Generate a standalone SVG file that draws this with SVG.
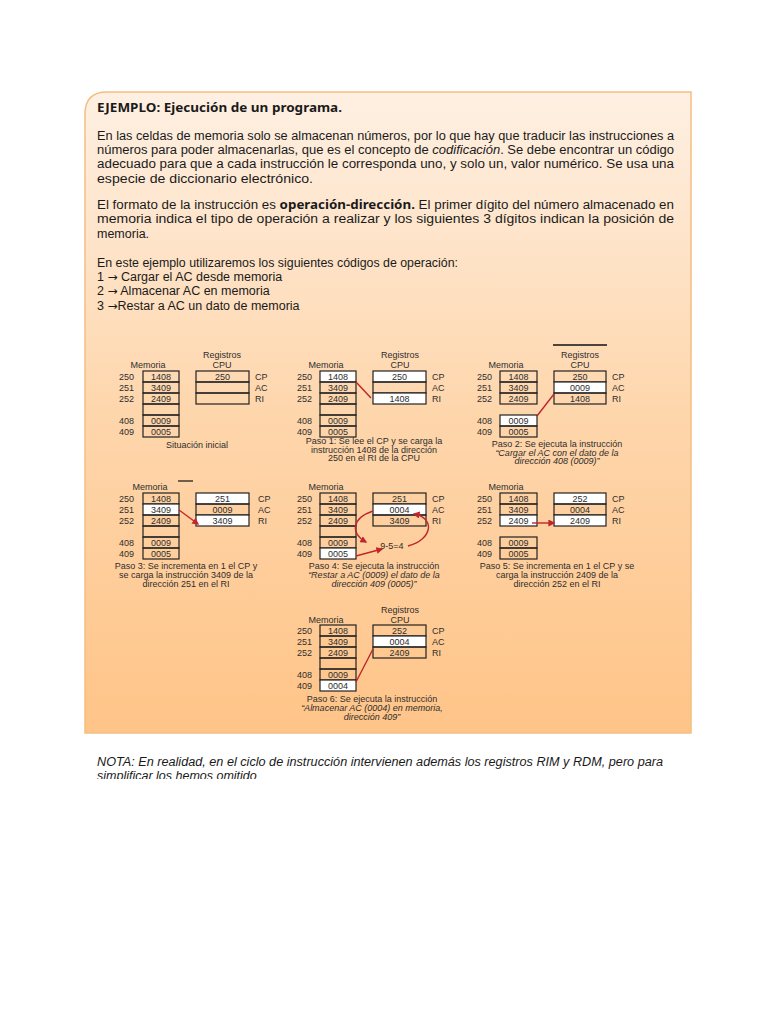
<svg xmlns="http://www.w3.org/2000/svg" width="768" height="1024" viewBox="0 0 768 1024">
<defs>
<linearGradient id="bg" x1="0" y1="0" x2="0" y2="1">
<stop offset="0" stop-color="#FEF0E3"/>
<stop offset="0.5" stop-color="#FED6AC"/>
<stop offset="1" stop-color="#FFC488"/>
</linearGradient>
<marker id="ah" viewBox="0 0 10 10" refX="8" refY="5" markerWidth="5" markerHeight="5" orient="auto">
<path d="M0,0 L10,5 L0,10 Z" fill="#C0262C"/>
</marker>
<clipPath id="noteclip"><rect x="0" y="740" width="768" height="39"/></clipPath>
<style>
.body{font-family:"Liberation Sans",Arial,sans-serif;font-size:12.5px;fill:#1a1a1a}
.bold{font-family:"Noto Sans","Open Sans",sans-serif;font-weight:bold}
.arr{font-family:"DejaVu Sans",sans-serif;font-size:12px}
.s{font-family:"Liberation Sans",Arial,sans-serif;font-size:9px;fill:#2e2e2e}
.c{text-anchor:middle}
.it{font-style:italic}
.cell{fill:none;stroke:#222;stroke-width:1.2}
.hi{fill:#FFFFFF;stroke:#222;stroke-width:1.2}
.red{fill:none;stroke:#C0262C;stroke-width:1.4}
</style>
</defs>
<rect width="768" height="1024" fill="#FFFFFF"/>
<path d="M107,92 H691 V733 H85 V114 Q85,92 107,92 Z" fill="url(#bg)" stroke="#F3BE82" stroke-width="1.5"/>

<g id="intro">
<text class="bold" x="97" y="112" font-size="13" fill="#1a1a1a" textLength="245" lengthAdjust="spacingAndGlyphs">EJEMPLO: Ejecución de un programa.</text>
<text class="body" x="97" y="139.5" textLength="577" lengthAdjust="spacingAndGlyphs">En las celdas de memoria solo se almacenan números, por lo que hay que traducir las instrucciones a</text>
<text class="body" x="97" y="153.5" textLength="577" lengthAdjust="spacingAndGlyphs">números para poder almacenarlas, que es el concepto de <tspan class="it">codificación</tspan>. Se debe encontrar un código</text>
<text class="body" x="97" y="167.5" textLength="577" lengthAdjust="spacingAndGlyphs">adecuado para que a cada instrucción le corresponda uno, y solo un, valor numérico. Se usa una</text>
<text class="body" x="97" y="182.5" textLength="216" lengthAdjust="spacingAndGlyphs">especie de diccionario electrónico.</text>
<text class="body" x="97" y="208.5" textLength="577" lengthAdjust="spacingAndGlyphs">El formato de la instrucción es <tspan class="bold">operación-dirección.</tspan> El primer dígito del número almacenado en</text>
<text class="body" x="97" y="222.5" textLength="577" lengthAdjust="spacingAndGlyphs">memoria indica el tipo de operación a realizar y los siguientes 3 dígitos indican la posición de</text>
<text class="body" x="97" y="237.5">memoria.</text>
<text class="body" x="97" y="266.5" textLength="361" lengthAdjust="spacingAndGlyphs">En este ejemplo utilizaremos los siguientes códigos de operación:</text>
<text class="body" x="97" y="280.5">1 <tspan class="arr">→</tspan> Cargar el AC desde memoria</text>
<text class="body" x="97" y="294.5">2 <tspan class="arr">→</tspan> Almacenar AC en memoria</text>
<text class="body" x="97" y="309.5">3 <tspan class="arr">→</tspan>Restar a AC un dato de memoria</text>
</g>

<!-- Diagram 1 -->
<g id="d1">
<text class="s c" x="222" y="358">Registros</text>
<text class="s c" x="222" y="368">CPU</text>
<text class="s c" x="148" y="368">Memoria</text>
<text class="s" x="119" y="379.5">250</text><text class="s" x="119" y="390.5">251</text><text class="s" x="119" y="401.5">252</text>
<text class="s" x="119" y="423.5">408</text><text class="s" x="119" y="434.5">409</text>
<rect class="cell" x="143" y="371" width="36" height="11"/><rect class="cell" x="143" y="382" width="36" height="11"/><rect class="cell" x="143" y="393" width="36" height="11"/><rect class="cell" x="143" y="404" width="36" height="11"/><rect class="cell" x="143" y="415" width="36" height="11"/><rect class="cell" x="143" y="426" width="36" height="11"/>
<text class="s c" x="161" y="379.5">1408</text><text class="s c" x="161" y="390.5">3409</text><text class="s c" x="161" y="401.5">2409</text><text class="s c" x="161" y="423.5">0009</text><text class="s c" x="161" y="434.5">0005</text>
<rect class="cell" x="196" y="371" width="53" height="11"/><rect class="cell" x="196" y="382" width="53" height="11"/><rect class="cell" x="196" y="393" width="53" height="11"/>
<text class="s c" x="222.5" y="379.5">250</text>
<text class="s" x="255" y="379.5">CP</text><text class="s" x="255" y="390.5">AC</text><text class="s" x="255" y="401.5">RI</text>
<text class="s c" x="197" y="448">Situación inicial</text>
</g>

<!-- Diagram 2 -->
<g id="d2">
<text class="s c" x="400" y="358">Registros</text>
<text class="s c" x="400" y="368">CPU</text>
<text class="s c" x="326" y="368">Memoria</text>
<text class="s" x="297" y="379.5">250</text><text class="s" x="297" y="390.5">251</text><text class="s" x="297" y="401.5">252</text>
<text class="s" x="297" y="423.5">408</text><text class="s" x="297" y="434.5">409</text>
<rect class="hi" x="320" y="371" width="36" height="11"/><rect class="cell" x="320" y="382" width="36" height="11"/><rect class="cell" x="320" y="393" width="36" height="11"/><rect class="cell" x="320" y="404" width="36" height="11"/><rect class="cell" x="320" y="415" width="36" height="11"/><rect class="cell" x="320" y="426" width="36" height="11"/>
<text class="s c" x="338" y="379.5">1408</text><text class="s c" x="338" y="390.5">3409</text><text class="s c" x="338" y="401.5">2409</text><text class="s c" x="338" y="423.5">0009</text><text class="s c" x="338" y="434.5">0005</text>
<rect class="hi" x="373" y="371" width="53" height="11"/><rect class="cell" x="373" y="382" width="53" height="11"/><rect class="hi" x="373" y="393" width="53" height="11"/>
<text class="s c" x="399.5" y="379.5">250</text><text class="s c" x="399.5" y="401.5">1408</text>
<text class="s" x="432" y="379.5">CP</text><text class="s" x="432" y="390.5">AC</text><text class="s" x="432" y="401.5">RI</text>
<text class="s c" x="374" y="444">Paso 1: Se lee el CP y se carga la</text>
<text class="s c" x="374" y="452.5">instrucción 1408 de la dirección</text>
<text class="s c" x="374" y="461">250 en el RI de la CPU</text>
</g>

<!-- Diagram 3 -->
<g id="d3">
<line x1="553" y1="345" x2="607" y2="345" stroke="#111" stroke-width="1.6"/>
<text class="s c" x="580" y="358">Registros</text>
<text class="s c" x="580" y="368">CPU</text>
<text class="s c" x="506" y="368">Memoria</text>
<text class="s" x="477" y="379.5">250</text><text class="s" x="477" y="390.5">251</text><text class="s" x="477" y="401.5">252</text>
<text class="s" x="477" y="423.5">408</text><text class="s" x="477" y="434.5">409</text>
<rect class="cell" x="500" y="371" width="37" height="11"/><rect class="cell" x="500" y="382" width="37" height="11"/><rect class="cell" x="500" y="393" width="37" height="11"/><rect class="hi" x="500" y="415" width="37" height="11"/><rect class="cell" x="500" y="426" width="37" height="11"/>
<text class="s c" x="518.5" y="379.5">1408</text><text class="s c" x="518.5" y="390.5">3409</text><text class="s c" x="518.5" y="401.5">2409</text><text class="s c" x="518.5" y="423.5">0009</text><text class="s c" x="518.5" y="434.5">0005</text>
<rect class="cell" x="554" y="371" width="52" height="11"/><rect class="hi" x="554" y="382" width="52" height="11"/><rect class="cell" x="554" y="393" width="52" height="11"/>
<text class="s c" x="580" y="379.5">250</text><text class="s c" x="580" y="390.5">0009</text><text class="s c" x="580" y="401.5">1408</text>
<text class="s" x="612" y="379.5">CP</text><text class="s" x="612" y="390.5">AC</text><text class="s" x="612" y="401.5">RI</text>
<text class="s c" x="557" y="447">Paso 2: Se ejecuta la instrucción</text>
<text class="s c it" x="557" y="455.5">“Cargar el AC con el dato de la</text>
<text class="s c it" x="557" y="464">dirección 408 (0009)”</text>
</g>

<!-- Diagram 4 -->
<g id="d4">
<line x1="178" y1="481" x2="193" y2="481" stroke="#111" stroke-width="1.2"/>
<text class="s c" x="150" y="490">Memoria</text>
<text class="s" x="119" y="501.5">250</text><text class="s" x="119" y="512.5">251</text><text class="s" x="119" y="523.5">252</text>
<text class="s" x="119" y="545.5">408</text><text class="s" x="119" y="556.5">409</text>
<rect class="cell" x="143" y="493" width="36" height="11"/><rect class="hi" x="143" y="504" width="36" height="11"/><rect class="cell" x="143" y="515" width="36" height="11"/><rect class="cell" x="143" y="526" width="36" height="11"/><rect class="cell" x="143" y="537" width="36" height="11"/><rect class="cell" x="143" y="548" width="36" height="11"/>
<text class="s c" x="161" y="501.5">1408</text><text class="s c" x="161" y="512.5">3409</text><text class="s c" x="161" y="523.5">2409</text><text class="s c" x="161" y="545.5">0009</text><text class="s c" x="161" y="556.5">0005</text>
<rect class="hi" x="196" y="493" width="53" height="11"/><rect class="cell" x="196" y="504" width="53" height="11"/><rect class="hi" x="196" y="515" width="53" height="11"/>
<text class="s c" x="222.5" y="501.5">251</text><text class="s c" x="222.5" y="512.5">0009</text><text class="s c" x="222.5" y="523.5">3409</text>
<text class="s" x="258" y="501.5">CP</text><text class="s" x="258" y="512.5">AC</text><text class="s" x="258" y="523.5">RI</text>
<text class="s c" x="186" y="569">Paso 3: Se incrementa en 1 el CP y</text>
<text class="s c" x="186" y="578">se carga la instrucción 3409 de la</text>
<text class="s c" x="186" y="587">dirección 251 en el RI</text>
</g>

<!-- Diagram 5 -->
<g id="d5">
<text class="s c" x="326" y="490">Memoria</text>
<text class="s" x="297" y="501.5">250</text><text class="s" x="297" y="512.5">251</text><text class="s" x="297" y="523.5">252</text>
<text class="s" x="297" y="545.5">408</text><text class="s" x="297" y="556.5">409</text>
<rect class="cell" x="320" y="493" width="36" height="11"/><rect class="cell" x="320" y="504" width="36" height="11"/><rect class="cell" x="320" y="515" width="36" height="11"/><rect class="cell" x="320" y="526" width="36" height="11"/><rect class="cell" x="320" y="537" width="36" height="11"/><rect class="hi" x="320" y="548" width="36" height="11"/>
<text class="s c" x="338" y="501.5">1408</text><text class="s c" x="338" y="512.5">3409</text><text class="s c" x="338" y="523.5">2409</text><text class="s c" x="338" y="545.5">0009</text><text class="s c" x="338" y="556.5">0005</text>
<rect class="cell" x="373" y="493" width="53" height="11"/><rect class="hi" x="373" y="504" width="53" height="11"/><rect class="cell" x="373" y="515" width="53" height="11"/>
<text class="s c" x="399.5" y="501.5">251</text><text class="s c" x="399.5" y="512.5">0004</text><text class="s c" x="399.5" y="523.5">3409</text>
<text class="s" x="432" y="501.5">CP</text><text class="s" x="432" y="512.5">AC</text><text class="s" x="432" y="523.5">RI</text>
<text class="s c" x="392" y="548.5">9-5=4</text>
<text class="s c" x="374" y="569">Paso 4: Se ejecuta la instrucción</text>
<text class="s c it" x="374" y="578">“Restar a AC (0009) el dato de la</text>
<text class="s c it" x="374" y="587">dirección 409 (0005)”</text>
</g>

<!-- Diagram 6 -->
<g id="d6">
<text class="s c" x="506" y="490">Memoria</text>
<text class="s" x="477" y="501.5">250</text><text class="s" x="477" y="512.5">251</text><text class="s" x="477" y="523.5">252</text>
<text class="s" x="477" y="545.5">408</text><text class="s" x="477" y="556.5">409</text>
<rect class="cell" x="500" y="493" width="37" height="11"/><rect class="cell" x="500" y="504" width="37" height="11"/><rect class="hi" x="500" y="515" width="37" height="11"/><rect class="cell" x="500" y="537" width="37" height="11"/><rect class="cell" x="500" y="548" width="37" height="11"/>
<text class="s c" x="518.5" y="501.5">1408</text><text class="s c" x="518.5" y="512.5">3409</text><text class="s c" x="518.5" y="523.5">2409</text><text class="s c" x="518.5" y="545.5">0009</text><text class="s c" x="518.5" y="556.5">0005</text>
<rect class="hi" x="554" y="493" width="52" height="11"/><rect class="cell" x="554" y="504" width="52" height="11"/><rect class="hi" x="554" y="515" width="52" height="11"/>
<text class="s c" x="580" y="501.5">252</text><text class="s c" x="580" y="512.5">0004</text><text class="s c" x="580" y="523.5">2409</text>
<text class="s" x="612" y="501.5">CP</text><text class="s" x="612" y="512.5">AC</text><text class="s" x="612" y="523.5">RI</text>
<text class="s c" x="557" y="569">Paso 5: Se incrementa en 1 el CP y se</text>
<text class="s c" x="557" y="578">carga la instrucción 2409 de la</text>
<text class="s c" x="557" y="587">dirección 252 en el RI</text>
</g>

<!-- Diagram 7 -->
<g id="d7">
<text class="s c" x="400" y="613">Registros</text>
<text class="s c" x="400" y="623">CPU</text>
<text class="s c" x="326" y="623">Memoria</text>
<text class="s" x="297" y="633.5">250</text><text class="s" x="297" y="644.5">251</text><text class="s" x="297" y="655.5">252</text>
<text class="s" x="297" y="677.5">408</text><text class="s" x="297" y="688.5">409</text>
<rect class="cell" x="320" y="625" width="36" height="11"/><rect class="cell" x="320" y="636" width="36" height="11"/><rect class="cell" x="320" y="647" width="36" height="11"/><rect class="cell" x="320" y="658" width="36" height="11"/><rect class="cell" x="320" y="669" width="36" height="11"/><rect class="hi" x="320" y="680" width="36" height="11"/>
<text class="s c" x="338" y="633.5">1408</text><text class="s c" x="338" y="644.5">3409</text><text class="s c" x="338" y="655.5">2409</text><text class="s c" x="338" y="677.5">0009</text><text class="s c" x="338" y="688.5">0004</text>
<rect class="cell" x="373" y="625" width="53" height="11"/><rect class="hi" x="373" y="636" width="53" height="11"/><rect class="cell" x="373" y="647" width="53" height="11"/>
<text class="s c" x="399.5" y="633.5">252</text><text class="s c" x="399.5" y="644.5">0004</text><text class="s c" x="399.5" y="655.5">2409</text>
<text class="s" x="432" y="633.5">CP</text><text class="s" x="432" y="644.5">AC</text><text class="s" x="432" y="655.5">RI</text>
<text class="s c" x="372" y="702">Paso 6: Se ejecuta la instrucción</text>
<text class="s c it" x="372" y="711">“Almacenar AC (0004) en memoria,</text>
<text class="s c it" x="372" y="720">dirección 409”</text>
</g>

<g id="connectors">
<polyline class="red" points="356,382 371,398"/>
<polyline class="red" points="537,416 554,394"/>
<line class="red" x1="179" y1="510" x2="198" y2="524" marker-end="url(#ah)"/>
<path class="red" d="M373,511 C352,518 350,533 366,542" marker-end="url(#ah)"/>
<line class="red" x1="356" y1="556" x2="382" y2="549" marker-end="url(#ah)"/>
<path class="red" d="M408,546 C432,540 436,518 414,514" marker-end="url(#ah)"/>
<line class="red" x1="532" y1="523" x2="554" y2="523" marker-end="url(#ah)"/>
<polyline class="red" points="356,682 373,649"/>
</g>

<g id="note" clip-path="url(#noteclip)">
<text class="body it" x="97" y="765.5" fill="#333" textLength="566" lengthAdjust="spacingAndGlyphs">NOTA: En realidad, en el ciclo de instrucción intervienen además los registros RIM y RDM, pero para</text>
<text class="body it" x="97" y="780" fill="#333">simplificar los hemos omitido</text>
</g>
</svg>
